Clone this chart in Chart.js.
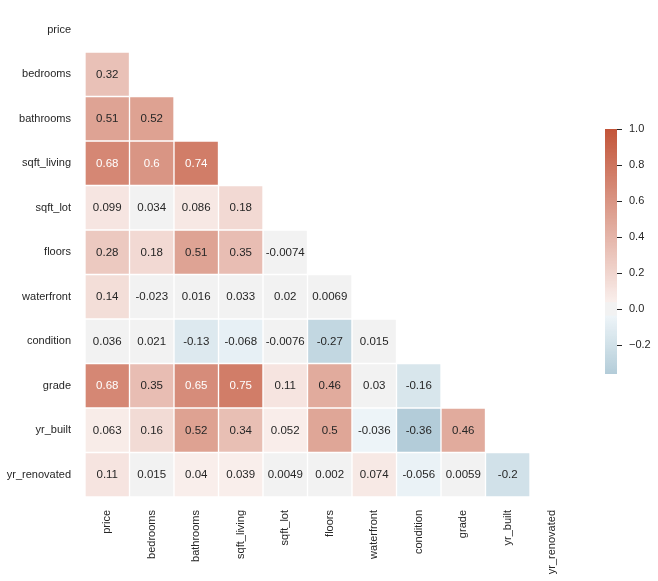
<!DOCTYPE html>
<html><head><meta charset="utf-8">
<script src="https://cdn.jsdelivr.net/npm/chart.js@4.4.1/dist/chart.umd.min.js"></script>
<style>
html,body{margin:0;padding:0;background:#fff;}
#wrap{position:relative;width:658px;height:581px;overflow:hidden;}
#main{position:absolute;left:0;top:0;}
#cbar{position:absolute;left:590px;top:110px;}
</style></head><body>
<div id="wrap"><canvas id="main" width="658" height="581"></canvas><canvas id="cbar" width="68" height="280"></canvas></div>
<script>
// ---- data ----
const variables = ['price','bedrooms','bathrooms','sqft_living','sqft_lot','floors','waterfront','condition','grade','yr_built','yr_renovated'];
const corrPrice = [];
const corrBedrooms = [0.32];
const corrBathrooms = [0.51, 0.52];
const corrSqftLiving = [0.68, 0.6, 0.74];
const corrSqftLot = [0.099, 0.034, 0.086, 0.18];
const corrFloors = [0.28, 0.18, 0.51, 0.35, -0.0074];
const corrWaterfront = [0.14, -0.023, 0.016, 0.033, 0.02, 0.0069];
const corrCondition = [0.036, 0.021, -0.13, -0.068, -0.0076, -0.27, 0.015];
const corrGrade = [0.68, 0.35, 0.65, 0.75, 0.11, 0.46, 0.03, -0.16];
const corrYrBuilt = [0.063, 0.16, 0.52, 0.34, 0.052, 0.5, -0.036, -0.36, 0.46];
const corrYrRenovated = [0.11, 0.015, 0.04, 0.039, 0.0049, 0.002, 0.074, -0.056, 0.0059, -0.2];
const colorbarTicks = [-0.2, 0.0, 0.2, 0.4, 0.6, 0.8, 1.0];
const colorMin = -0.36, colorMax = 1.0;

const rows = [corrPrice, corrBedrooms, corrBathrooms, corrSqftLiving, corrSqftLot, corrFloors,
  corrWaterfront, corrCondition, corrGrade, corrYrBuilt, corrYrRenovated];

// ---- seaborn diverging_palette(230, 20, sep=10) via HUSL ----
const M = [[3.2406,-1.5372,-0.4986],[-0.9689,1.8758,0.0415],[0.0557,-0.2040,1.0570]];
function maxChroma(L,H){
  const hr=H*Math.PI/180, sinH=Math.sin(hr), cosH=Math.cos(hr);
  const sub1=Math.pow(L+16,3)/1560896, sub2= sub1>0.008856?sub1:L/903.3;
  let res=Infinity;
  for(const [m1,m2,m3] of M){
    const top=(0.99915*m1+1.05122*m2+1.14460*m3)*sub2;
    const rb=0.86330*m3-0.17266*m2, lb=0.12949*m3-0.38848*m1;
    const bottom=(rb*sinH+lb*cosH)*sub2;
    for(const t of [0,1]){
      const C=L*(top-1.05122*t)/(bottom+0.17266*sinH*t);
      if(C>0&&C<res) res=C;
    }
  }
  return res;
}
function huslToRgb(H,S,L){
  const C=maxChroma(L,H)/100*S;
  const hr=H*Math.PI/180, U=Math.cos(hr)*C, V=Math.sin(hr)*C;
  const t=(L+16)/116; const varY= Math.pow(t,3)>0.008856?Math.pow(t,3):(116*t-16)/903.3;
  const varU=U/(13*L)+0.19784, varV=V/(13*L)+0.46834;
  const Y=varY, X=-(9*Y*varU)/((varU-4)*varV-varU*varV), Z=(9*Y-15*varV*Y-varV*X)/(3*varV);
  return M.map(r=>{const c=r[0]*X+r[1]*Y+r[2]*Z; const v=c<=0.0031308?12.92*c:1.055*Math.pow(c,1/2.4)-0.055; return Math.min(1,Math.max(0,v));});
}
function rgbToHls(r,g,b){
  const mx=Math.max(r,g,b), mn=Math.min(r,g,b), l=(mx+mn)/2;
  if(mx===mn) return [0,l,0];
  const s = l<=0.5 ? (mx-mn)/(mx+mn) : (mx-mn)/(2-mx-mn);
  const rc=(mx-r)/(mx-mn), gc=(mx-g)/(mx-mn), bc=(mx-b)/(mx-mn);
  let h = r===mx ? bc-gc : (g===mx ? 2+rc-bc : 4+gc-rc);
  h=((h/6)%1+1)%1;
  return [h,l,s];
}
function hlsToRgb(h,l,s){
  if(s===0) return [l,l,l];
  const m2 = l<=0.5 ? l*(1+s) : l+s-l*s, m1=2*l-m2;
  const v=(hue)=>{hue=((hue%1)+1)%1; if(hue<1/6) return m1+(m2-m1)*hue*6; if(hue<0.5) return m2; if(hue<2/3) return m1+(m2-m1)*(2/3-hue)*6; return m1;};
  return [v(h+1/3), v(h), v(h-1/3)];
}
function lighten(c){const [h,l,s]=rgbToHls(...c); return hlsToRgb(h,0.95,s);}
const negC=huslToRgb(230,75,50), posC=huslToRgb(20,75,50);
const negL=lighten(negC), posL=lighten(posC);
const MID=[0.95,0.95,0.95];
const cstops=[[0,negC],[122/255,negL],[123/255,MID],[132/255,MID],[133/255,posL],[1,posC]];
function cmapRgb(t){
  t=Math.min(1,Math.max(0,t));
  for(let k=0;k<cstops.length-1;k++){
    const [t0,c0]=cstops[k],[t1,c1]=cstops[k+1];
    if(t<=t1){const f=(t-t0)/(t1-t0); return c0.map((c,i)=>c+(c1[i]-c)*f);}
  }
  return posC;
}
// 256-entry lookup, then recentred ListedColormap (center = 0) as seaborn does
const lut = Array.from({length:256},(_,k)=>cmapRgb(k/255));
const cLo=(colorMin+1)/2, cHi=(colorMax+1)/2;
const listed = Array.from({length:256},(_,k)=>{const t=cLo+(cHi-cLo)*k/255; return lut[Math.min(255,Math.floor(t*256))];});
function valueRgb(v){
  const idx=Math.min(255,Math.max(0,Math.floor((v-colorMin)/(colorMax-colorMin)*256)));
  return listed[idx];
}
function rgbStr(c){return 'rgb('+c.map(v=>Math.round(v*255)).join(',')+')';}
function textColorFor(v){
  const lin=valueRgb(v).map(c=>c<=0.03928?c/12.92:Math.pow((c+0.055)/1.055,2.4));
  const lum=0.2126*lin[0]+0.7152*lin[1]+0.0722*lin[2];
  return lum>0.408?'#262626':'#ffffff';
}

const FONT='"Liberation Sans", Arial, "DejaVu Sans", sans-serif';

// ---- heatmap ----
const datasets = variables.map((rowName,i)=>({
  label: rowName,
  data: variables.map((c,j)=> j<i ? [i-0.5, i+0.5] : null),
  backgroundColor: variables.map((c,j)=> j<i ? rgbStr(valueRgb(rows[i][j])) : 'rgba(0,0,0,0)'),
  borderColor:'#ffffff', borderWidth:1, borderSkipped:false,
  barPercentage:1, categoryPercentage:1, grouped:false
}));

const annotPlugin = {
  id:'annot',
  afterDatasetsDraw(chart){
    const c=chart.ctx; c.save();
    c.font='11.5px '+FONT; c.textAlign='center'; c.textBaseline='middle';
    chart.data.datasets.forEach((ds,i)=>{
      const meta=chart.getDatasetMeta(i);
      meta.data.forEach((el,j)=>{
        if(j>=i) return;
        const v=rows[i][j];
        const p=el.getProps(['x','y','base'],true);
        c.fillStyle=textColorFor(v);
        c.fillText(String(v), p.x, (p.y+p.base)/2+0.5);
      });
    });
    c.restore();
  }
};

new Chart(document.getElementById('main'),{
  type:'bar',
  data:{labels:variables, datasets},
  options:{
    responsive:false, animation:false,
    layout:{padding:{left:0,top:7.5,right:83.5,bottom:0}},
    plugins:{legend:{display:false}, tooltip:{enabled:false}},
    scales:{
      x:{type:'category', offset:true,
        grid:{display:false, drawTicks:false}, border:{display:false},
        ticks:{minRotation:90, maxRotation:90, autoSkip:false, padding:13, color:'#262626', font:{family:FONT, size:11}},
        afterFit(s){ s.height=84; s.paddingLeft=0; s.paddingRight=0; }
      },
      y:{type:'linear', min:-0.5, max:10.5, reverse:true,
        grid:{display:false, drawTicks:false}, border:{display:false},
        afterBuildTicks(s){ s.ticks = variables.map((v,i)=>({value:i})); },
        ticks:{autoSkip:false, padding:14, color:'#262626', font:{family:FONT, size:11},
          callback:(v)=>variables[Math.round(v)]},
        afterFit(s){ s.width=85; s.paddingTop=0; s.paddingBottom=0; }
      }
    }
  },
  plugins:[annotPlugin]
});

// ---- colorbar ----
new Chart(document.getElementById('cbar'),{
  type:'bar',
  data:{labels:['cb'], datasets:[{
    data:[[colorMin, colorMax]],
    backgroundColor:(ctx)=>{
      const ch=ctx.chart; if(!ch.chartArea) return 'rgba(0,0,0,0)';
      const ys=ch.scales.y;
      const y0=ys.getPixelForValue(colorMin), y1=ys.getPixelForValue(colorMax);
      const g=ch.ctx.createLinearGradient(0,y0,0,y1);
      listed.forEach((c,k)=>g.addColorStop((k+0.5)/256, rgbStr(c)));
      return g;
    },
    borderWidth:0, barPercentage:1, categoryPercentage:1
  }]},
  options:{
    responsive:false, animation:false,
    layout:{padding:{left:15,top:19,right:0,bottom:16}},
    plugins:{legend:{display:false}, tooltip:{enabled:false}},
    scales:{
      x:{display:false, offset:true},
      y:{type:'linear', position:'right', min:colorMin, max:colorMax,
        grid:{drawOnChartArea:false, drawTicks:true, tickLength:5, color:'#262626', lineWidth:1},
        border:{display:false},
        afterBuildTicks(s){ s.ticks = colorbarTicks.map(v=>({value:v})); },
        ticks:{padding:7, color:'#262626', font:{family:FONT, size:11},
          callback:(v)=> (v<0?'\u2212':'') + Math.abs(v).toFixed(1)},
        afterFit(s){ s.width=41; s.paddingTop=0; s.paddingBottom=0; }
      }
    }
  }
});
</script>
</body></html>
